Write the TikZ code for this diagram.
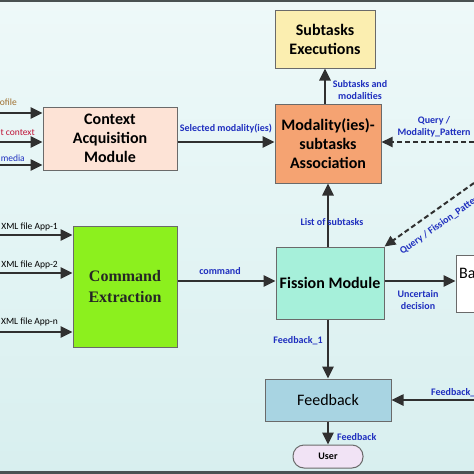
\documentclass[tikz,border=0pt]{standalone}
\usepackage{fontspec}
\setmainfont{Carlito}
\newfontfamily\serifbold{Liberation Serif}
\usetikzlibrary{arrows.meta}
\definecolor{bgtop}{HTML}{EEF9F9}
\definecolor{bgbot}{HTML}{D8EFEF}
\definecolor{frame}{HTML}{4A5252}
\definecolor{subfill}{HTML}{FBEEB0}
\definecolor{ctxfill}{HTML}{FDE3D6}
\definecolor{modfill}{HTML}{F5A372}
\definecolor{cmdfill}{HTML}{8CF01E}
\definecolor{fisfill}{HTML}{A6F0DA}
\definecolor{fbfill}{HTML}{A8D4E2}
\definecolor{userfill}{HTML}{F1E3F5}
\definecolor{lblblue}{HTML}{1F2FBF}
\definecolor{arrowc}{HTML}{303030}
\definecolor{brownlbl}{HTML}{A07030}
\definecolor{redlbl}{HTML}{C01438}
\definecolor{boxline}{HTML}{6A6A6A}
\tikzset{
  box/.style={draw=boxline, line width=1pt, inner sep=1pt, align=center, font=\fontsize{16}{19}\selectfont\bfseries},
  conn/.style={draw=arrowc, line width=2.5pt, -{Triangle[length=12pt,width=11pt]}},
  dconn/.style={draw=arrowc, line width=2pt, dash pattern=on 5pt off 3pt, -{Triangle[length=11pt,width=10pt]}},
  lbl/.style={text=lblblue, font=\fontsize{10}{12.5}\selectfont\bfseries, align=center, inner sep=0pt},
  inlbl/.style={font=\fontsize{9.5}{11}\selectfont, inner sep=0pt, anchor=east}
}
\begin{document}
\begin{tikzpicture}[x=1pt,y=-1pt]
\useasboundingbox (0,0) rectangle (474,474);
\clip (0,0) rectangle (474,474);
\shade[top color=bgtop, bottom color=bgbot] (0,0) rectangle (474,474);
\fill[frame] (0,0) rectangle (474,2);
\fill[frame] (0,471) rectangle (474,474);

% nodes
\node[box, fill=subfill, minimum width=100pt, minimum height=58pt] (sub) at (325,39) {Subtasks\\Executions};
\node[box, fill=ctxfill, minimum width=134pt, minimum height=63pt] (ctx) at (110,138.5) {Context\\Acquisition\\Module};
\node[box, fill=modfill, minimum width=106pt, minimum height=79pt] (mod) at (328,143.5) {Modality(ies)-\\subtasks\\Association};
\node[box, fill=cmdfill, font=\fontsize{16}{21}\selectfont\serifbold\bfseries, text=black!85, minimum width=104pt, minimum height=121pt] (cmd) at (125,286.5) {Command\\Extraction};
\node[box, fill=fisfill, minimum width=108pt, minimum height=72pt] (fis) at (330,283) {Fission Module};
\node[box, fill=white, minimum width=64pt, minimum height=57pt] (ba) at (488,283.5) {};
\node[font=\fontsize{16}{19}\selectfont, anchor=west, inner sep=0pt] (batxt) at (459,273) {Ba};
\node[box, fill=fbfill, font=\fontsize{16}{19}\selectfont, minimum width=126pt, minimum height=42pt] (fb) at (328,400) {Feedback};
\node[draw=boxline, line width=1pt, fill=userfill, rounded corners=11pt, minimum width=70pt, minimum height=23pt, inner sep=0pt, font=\fontsize{10}{12}\selectfont\bfseries] (user) at (328,456.5) {User};

% free ends
\coordinate (i1) at (0,113);
\coordinate (i2) at (0,142);
\coordinate (i3) at (0,165);
\coordinate (x1) at (0,235);
\coordinate (x2) at (0,273);
\coordinate (x3) at (0,332);
\coordinate (qm) at (474,142);
\coordinate (qf) at (474,183);
\coordinate (f2) at (474,400);

% connectors
\draw[conn] (i1) -- (i1 -| ctx.west);
\draw[conn] (i2) -- (i2 -| ctx.west);
\draw[conn] (i3) -- (i3 -| ctx.west);
\draw[conn] (x1) -- (x1 -| cmd.west);
\draw[conn] (x2) -- (x2 -| cmd.west);
\draw[conn] (x3) -- (x3 -| cmd.west);
\draw[conn] (ctx.east |- i2) -- (mod.west |- i2);
\draw[conn] (sub.south |- mod.north) -- (sub.south);
\draw[conn] (fis.north -| mod.south) -- (mod.south);
\draw[conn] (cmd.east |- 0,281) -- (fis.west |- 0,281);
\draw[conn] (fis.east |- 0,281) -- (ba.west |- 0,281);
\draw[conn] (fis.south -| fb.north) -- (fb.north);
\draw[conn] (fb.south) -- (user.north);
\draw[conn] (f2) -- (fb.east);
\draw[dconn] (qm) -- (mod.east |- qm);
\draw[dconn] (qf) -- (fis.north east);

% labels
\node[inlbl, text=brownlbl] (l1) at (17,103) {User profile};
\node[inlbl, text=redlbl] (l2) at (35,132) {Environment context};
\node[inlbl, text=lblblue] (l3) at (25,158) {Multimedia};
\node[inlbl] (l4) at (58,227) {XML file App-1};
\node[inlbl] (l5) at (58,265) {XML file App-2};
\node[inlbl] (l6) at (58,322) {XML file App-n};
\node[lbl] (s1) at (360,90) {Subtasks and\\modalities};
\node[lbl] (s2) at (226,129) {Selected modality(ies)};
\node[lbl] (s3) at (434,127) {Query /\\Modality\_Pattern};
\node[lbl] (s4) at (332,222) {List of subtasks};
\node[lbl, rotate=35, anchor=west] (s5) at (401,252) {Query / Fission\_Pattern};
\node[lbl] (s6) at (220,271) {command};
\node[lbl] (s7) at (418,300) {Uncertain\\decision};
\node[lbl] (s8) at (298,341) {Feedback\_1};
\node[lbl, anchor=west] (s9) at (431,393) {Feedback\_2};
\node[lbl, anchor=west] (s10) at (337,437) {Feedback};
\end{tikzpicture}
\end{document}
